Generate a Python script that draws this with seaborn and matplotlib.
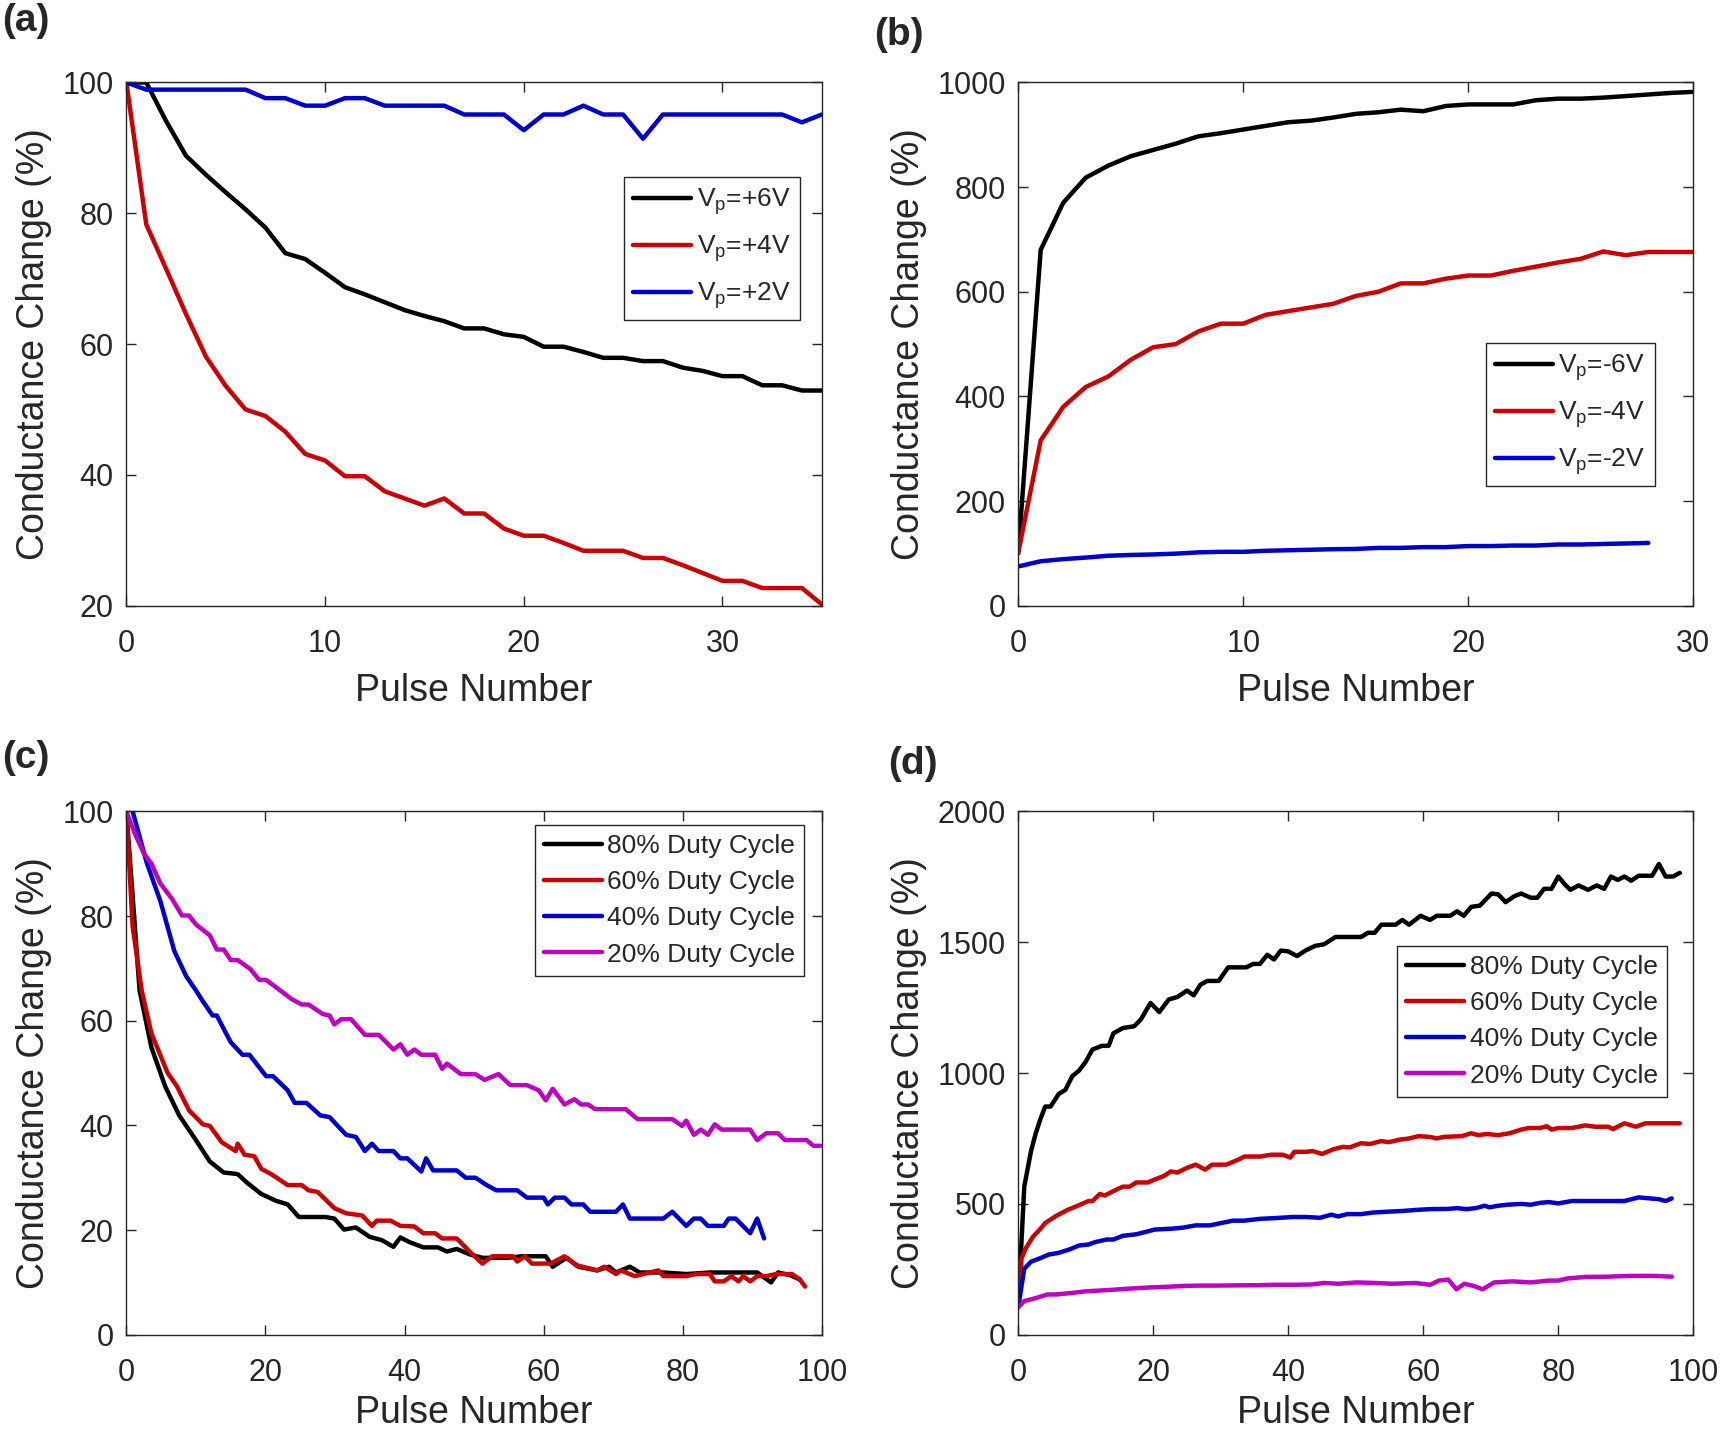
import numpy as np
import pandas as pd
import matplotlib
matplotlib.use('Agg')
import matplotlib.pyplot as plt
import seaborn as sns

# (a) depression, pulse amplitude
pulse_a = list(range(36))
g_p6v = [100, 100, 94.1, 88.8, 85.9, 83.2, 80.6, 77.8, 73.9, 73.0, 70.9, 68.7, 67.6, 66.4, 65.2, 64.3,
         63.5, 62.4, 62.4, 61.5, 61.1, 59.6, 59.6, 58.8, 57.9, 57.9, 57.4, 57.4, 56.4, 55.9, 55.1, 55.1,
         53.7, 53.7, 52.9, 52.9]
g_p4v = [100, 78.3, 71.5, 64.6, 58.1, 53.6, 50.0, 49.0, 46.6, 43.2, 42.2, 39.8, 39.8, 37.5, 36.4, 35.3,
         36.4, 34.1, 34.1, 31.8, 30.7, 30.7, 29.6, 28.4, 28.4, 28.4, 27.3, 27.3, 26.2, 25.0, 23.8, 23.8,
         22.7, 22.7, 22.7, 20.2]
g_p2v = [100, 98.9, 98.9, 98.9, 98.9, 98.9, 98.9, 97.6, 97.6, 96.45, 96.45, 97.6, 97.6, 96.45, 96.45, 96.45,
         96.45, 95.1, 95.1, 95.1, 92.7, 95.1, 95.1, 96.45, 95.1, 95.1, 91.4, 95.1, 95.1, 95.1, 95.1, 95.1,
         95.1, 95.1, 93.9, 95.1]

# (b) potentiation, pulse amplitude
pulse_b = list(range(31))
g_m6v = [100, 680, 770, 818, 841, 859, 871, 883, 897, 903, 910, 917, 924, 927, 933, 940, 943, 948, 945,
         955, 958, 958, 958, 966, 969, 969, 971, 974, 977, 980, 982]
g_m4v = [101, 316, 380, 418, 438, 470, 494, 500, 524, 539, 539, 556, 563, 570, 577, 592, 600, 616, 616,
         625, 631, 631, 640, 648, 656, 663, 677, 670, 676, 676, 676]
pulse_b2 = list(range(29))
g_m2v = [75, 85, 89, 92, 95.5, 97, 98, 99.5, 102, 103, 103, 105, 106, 107, 108, 108.5, 110.5, 110.5, 112,
         112, 114, 114, 115, 115, 117, 117, 118, 119, 120]

# (c) depression, duty cycle
x_c80 = [0, 1.9, 3.6, 5.6, 7.6, 10, 12, 14, 16, 17.4, 19.4, 21.5, 23.2, 24.8, 25.9, 28.6, 29.9, 31.3, 33,
         35, 36.7, 38.4, 39.4, 40.7, 42.7, 44.8, 46.1, 47.5, 49.5, 51.2, 54.9, 56.9, 60.3, 61.3, 63.3, 65,
         67.7, 69.4, 70.4, 72.4, 73.8, 77.2, 80.5, 83.9, 85.9, 87.6, 90.7, 92.7, 93.7, 95.4, 96.8]
y_c80 = [100, 65.8, 54.9, 47.4, 41.9, 37.2, 33.1, 31.0, 30.7, 29.0, 26.9, 25.6, 24.9, 22.5, 22.5, 22.5, 22.2,
         20.1, 20.5, 18.7, 18.1, 16.8, 18.6, 17.7, 16.7, 16.7, 15.9, 16.4, 15.3, 14.7, 14.7, 15.0, 15.0, 13.0,
         14.7, 13.0, 12.3, 13.0, 11.9, 13.0, 11.9, 11.9, 11.6, 11.9, 11.9, 11.9, 11.9, 10.0, 11.9, 11.4, 10.6]
x_c60 = [0, 0.9, 2.2, 3.6, 5.9, 7.3, 9, 11, 12, 13.7, 15.7, 16, 17, 18.4, 19.4, 20.8, 23.2, 25.2, 26.2, 27.5,
         29.9, 31.6, 33.9, 35.3, 36, 38, 39.4, 41.4, 42.7, 44.4, 45.4, 47.5, 49.5, 51.2, 52.6, 55.6, 56.2,
         57.3, 58.3, 61, 63, 64.7, 67.7, 68.7, 70.4, 71.1, 73.1, 76.5, 77.2, 80.5, 81.9, 83.9, 84.6, 85.9,
         87, 88, 88.7, 89.7, 90.7, 92, 93.4, 95.7, 96.8, 97.6]
y_c60 = [100, 78, 65.8, 57.6, 50.1, 47.4, 42.9, 40.2, 39.9, 36.8, 35.1, 36.5, 34.4, 34.1, 31.7, 30.7, 28.6,
         28.6, 27.6, 27.3, 24.2, 23.2, 22.8, 20.8, 21.8, 21.8, 20.8, 20.7, 19.4, 19.4, 18.4, 18.4, 15.7, 13.6,
         15.0, 15.0, 14.0, 15.0, 13.6, 13.6, 15.0, 13.3, 12.3, 13.0, 11.6, 12.3, 11.2, 12.3, 11.2, 11.2, 11.6,
         11.6, 10.2, 10.2, 11.2, 10.2, 11.2, 10.2, 11.2, 11.2, 11.6, 11.6, 10.6, 9.2]
x_c40 = [0, 0.9, 2.9, 4.9, 6.9, 8.6, 10, 11, 12.4, 13, 15, 16.7, 17.7, 20.1, 21.1, 23.2, 24.2, 25.9, 27.9,
         29.2, 31.6, 33, 34.3, 35.3, 36.3, 38.4, 39.4, 40.4, 42.4, 43.1, 44.1, 47.5, 48.8, 50.2, 51.8, 53.2,
         56.2, 57.6, 60, 60.6, 61.6, 63, 64, 65.7, 66.7, 70.4, 71.4, 72.4, 77.2, 78.5, 80.5, 81.6, 82.6,
         83.6, 85.9, 86.6, 87.6, 89.7, 90.7, 91.7]
y_c40 = [104, 100, 90.3, 82.8, 73.3, 68.5, 65.8, 63.7, 61.0, 61.0, 55.9, 53.5, 53.5, 49.4, 49.4, 46.7, 44.3,
         44.3, 41.9, 41.6, 38.2, 37.8, 35.1, 36.5, 35.1, 35.1, 33.7, 33.7, 31.2, 33.7, 31.4, 31.4, 30.0, 30.0,
         28.6, 27.6, 27.6, 26.2, 26.2, 24.9, 26.2, 26.2, 24.9, 24.9, 23.5, 23.5, 24.9, 22.2, 22.2, 23.5, 20.8,
         22.2, 22.2, 20.8, 20.8, 22.2, 22.2, 19.4, 22.2, 18.4]
x_c20 = [0, 1.2, 2.5, 3.6, 4.9, 6.6, 8, 9, 10, 12, 13, 14, 15, 16, 17.8, 19.1, 20.1, 21.8, 23.8, 25.2, 26.2,
         28.2, 29.2, 29.9, 30.9, 32.3, 34.3, 36.3, 38.4, 39.4, 40.4, 41.4, 42.4, 44.4, 45.4, 46.1, 48.1,
         50.2, 51.5, 53.5, 55.2, 57.6, 59.3, 60.3, 61.3, 63, 64.4, 65.4, 66.4, 67.4, 71.8, 73.5, 78.5, 79.9,
         80.5, 81.6, 82.6, 83.6, 84.6, 85.6, 89.7, 90.7, 92, 93.7, 94.7, 97.8, 98.8, 99.8]
y_c20 = [100, 95.8, 92.0, 90.0, 86.2, 83.2, 80.1, 80.1, 78.4, 76.3, 73.6, 73.6, 71.6, 71.6, 69.9, 67.8, 67.8,
         66.1, 64.1, 63.1, 63.1, 61.3, 61.0, 59.3, 60.3, 60.3, 57.3, 57.3, 54.5, 55.5, 53.5, 54.5, 53.5, 53.5,
         50.8, 51.8, 49.8, 49.8, 48.7, 49.8, 47.7, 47.7, 46.7, 44.8, 47.0, 44.0, 45.0, 44.0, 44.0, 43.1, 43.1,
         41.2, 41.2, 39.9, 40.9, 38.2, 39.2, 38.2, 40.2, 39.2, 39.2, 37.2, 38.5, 38.5, 37.2, 37.2, 36.1, 36.1]

# (d) potentiation, duty cycle
x_d80 = [0, 0.9, 1.9, 2.6, 3.3, 4, 4.8, 6, 7, 8, 9, 10, 11, 12.4, 13.4, 14.1, 15.5, 17.2, 18.2, 19.6, 20.9,
         22.3, 23.6, 25, 26, 27, 28, 29.7, 31.1, 33.8, 34.8, 35.8, 36.9, 37.9, 38.9, 40, 41.3, 42.6, 44,
         45.3, 47, 50.8, 51.8, 52.8, 53.8, 55.9, 56.9, 57.9, 59.6, 61, 62, 64, 65, 66, 67.1, 68.4, 70.1,
         71.1, 72.2, 73.5, 74.5, 75.9, 76.9, 77.9, 79, 80, 81, 81.8, 83, 84.4, 85.7, 86.8, 87.8, 88.8,
         89.8, 90.8, 91.9, 93.9, 94.9, 95.9, 97, 98]
y_d80 = [105, 566, 702, 770, 825, 872, 872, 920, 936, 988, 1009, 1043, 1090, 1104, 1104, 1152, 1172, 1179,
         1206, 1268, 1233, 1281, 1291, 1315, 1297, 1338, 1352, 1352, 1404, 1404, 1417, 1417, 1452, 1434, 1468,
         1465, 1447, 1469, 1486, 1492, 1520, 1520, 1536, 1536, 1567, 1567, 1585, 1567, 1601, 1585, 1601, 1601,
         1618, 1601, 1635, 1640, 1686, 1683, 1653, 1676, 1686, 1670, 1670, 1704, 1704, 1751, 1720, 1700,
         1717, 1700, 1717, 1704, 1751, 1738, 1751, 1735, 1754, 1754, 1799, 1751, 1751, 1765]
x_d60 = [0, 0.5, 1.2, 2.2, 3.3, 4, 5.6, 7.3, 9, 10.4, 11, 12.1, 12.8, 14.1, 15.5, 16.5, 17.5, 19.2, 20.2,
         21.6, 22.6, 23.6, 25, 26.3, 27.7, 28.7, 30.8, 32.5, 33.5, 35.8, 37.5, 39.2, 40.3, 40.9, 42.6, 43.6,
         45, 46.7, 48.1, 49.1, 50.8, 52.1, 53.8, 54.9, 56.6, 57.9, 59.3, 61, 62, 63, 65.7, 67.1, 68.1, 69.4,
         71.1, 72.8, 74.5, 75.6, 77.3, 78.3, 79, 80, 82, 84, 85.4, 87.4, 88.1, 89.8, 91.5, 92.9, 95.9, 98]
y_d60 = [105, 293, 334, 375, 405, 427, 454, 477, 495, 511, 511, 538, 532, 549, 566, 566, 582, 582, 593, 607,
         624, 620, 638, 650, 631, 650, 650, 668, 681, 681, 688, 688, 677, 699, 699, 702, 691, 709, 718, 716,
         732, 729, 740, 736, 746, 750, 759, 756, 750, 756, 759, 770, 763, 767, 763, 770, 784, 790, 790, 797,
         784, 790, 790, 800, 795, 795, 786, 808, 795, 808, 808, 808]
x_d40 = [0, 0.9, 1.9, 3.3, 4.6, 6, 7.7, 9, 10.4, 11.4, 13.1, 14.1, 15.5, 17.5, 19.2, 20.2, 22.6, 24.3, 26.3,
         28.4, 29.7, 31.8, 33.5, 35.8, 38.2, 40.6, 42.6, 44.7, 46.4, 47.4, 48.7, 50.8, 52.5, 54.5, 56.9,
         58.9, 61, 63.7, 65, 66.4, 67.8, 69.1, 69.8, 71.1, 72.5, 74.5, 75.9, 77.3, 78.6, 80, 82, 84, 88.1,
         89.8, 91.9, 93.6, 94.9, 95.9, 96.8]
y_d40 = [105, 252, 279, 293, 307, 313, 327, 341, 345, 354, 364, 364, 378, 384, 395, 402, 405, 409, 418, 418,
         425, 436, 436, 443, 446, 450, 450, 447, 459, 452, 461, 461, 467, 470, 473, 477, 480, 481, 484, 480,
         484, 493, 487, 493, 497, 500, 497, 504, 507, 502, 511, 511, 511, 511, 525, 521, 518, 511, 521]
x_d20 = [0, 0.9, 2.6, 4.3, 5.6, 7.7, 10, 12.8, 16.2, 19.6, 22.6, 25, 27, 29.7, 33.1, 34.8, 37.9, 40.6, 43.3,
         45.3, 47.4, 50.1, 52.8, 55.5, 58.9, 61, 62.3, 63.7, 64.9, 66.1, 67.4, 68.8, 70.5, 73.2, 75.9, 78.6,
         80, 81.3, 84, 87.4, 90.8, 94.2, 96.8]
y_d20 = [105, 129, 140, 154, 154, 159, 166, 170, 176, 181, 184, 187, 188, 188, 189, 189, 191, 191, 192, 198,
         195, 200, 198, 195, 198, 191, 207, 211, 174, 195, 187, 174, 200, 204, 200, 207, 207, 215, 221, 222,
         225, 225, 222]

BLACK, RED, BLUE, MAG = '#000000', '#cc0000', '#0000cc', '#c000c0'

sns.set_style('ticks')
plt.rcParams['font.family'] = ['Liberation Sans', 'DejaVu Sans']
plt.rcParams['mathtext.fontset'] = 'custom'
plt.rcParams['mathtext.rm'] = 'Liberation Sans'
plt.rcParams['mathtext.it'] = 'Liberation Sans'

fig = plt.figure(figsize=(17.24, 14.34), dpi=100)
ax_a = fig.add_axes([0.0733, 0.5776, 0.4034, 0.3649])
ax_b = fig.add_axes([0.5906, 0.5776, 0.3916, 0.3649])
ax_c = fig.add_axes([0.0733, 0.0692, 0.4034, 0.3650])
ax_d = fig.add_axes([0.5906, 0.0692, 0.3916, 0.3650])

LW = 3.2


def draw(ax, x, y, color, label):
    sns.lineplot(x=x, y=y, color=color, lw=LW, label=label, ax=ax, estimator=None, sort=False)


draw(ax_a, pulse_a, g_p6v, BLACK, 'V$_\\mathregular{p}$=+6V')
draw(ax_a, pulse_a, g_p4v, RED, 'V$_\\mathregular{p}$=+4V')
draw(ax_a, pulse_a, g_p2v, BLUE, 'V$_\\mathregular{p}$=+2V')

draw(ax_b, pulse_b, g_m6v, BLACK, 'V$_\\mathregular{p}$=-6V')
draw(ax_b, pulse_b, g_m4v, RED, 'V$_\\mathregular{p}$=-4V')
draw(ax_b, pulse_b2, g_m2v, BLUE, 'V$_\\mathregular{p}$=-2V')

draw(ax_c, x_c80, y_c80, BLACK, '80% Duty Cycle')
draw(ax_c, x_c60, y_c60, RED, '60% Duty Cycle')
draw(ax_c, x_c40, y_c40, BLUE, '40% Duty Cycle')
draw(ax_c, x_c20, y_c20, MAG, '20% Duty Cycle')

draw(ax_d, x_d80, y_d80, BLACK, '80% Duty Cycle')
draw(ax_d, x_d60, y_d60, RED, '60% Duty Cycle')
draw(ax_d, x_d40, y_d40, BLUE, '40% Duty Cycle')
draw(ax_d, x_d20, y_d20, MAG, '20% Duty Cycle')

ax_a.set(xlim=(0, 35), ylim=(20, 100), xticks=[0, 10, 20, 30], yticks=[20, 40, 60, 80, 100])
ax_b.set(xlim=(0, 30), ylim=(0, 1000), xticks=[0, 10, 20, 30], yticks=[0, 200, 400, 600, 800, 1000])
ax_c.set(xlim=(0, 100), ylim=(0, 100), xticks=[0, 20, 40, 60, 80, 100], yticks=[0, 20, 40, 60, 80, 100])
ax_d.set(xlim=(0, 100), ylim=(0, 2000), xticks=[0, 20, 40, 60, 80, 100], yticks=[0, 500, 1000, 1500, 2000])

# legend anchor (upper right corner, axes coords) and row spacing
legend_opts = {ax_a: ((0.968, 0.819), 0.62), ax_b: ((0.943, 0.502), 0.62),
               ax_c: ((0.975, 0.974), 0.46), ax_d: ((0.961, 0.743), 0.46)}

# bottom row labels sit a bit tighter so they stay inside the canvas
xlabel_pad = {ax_a: 10, ax_b: 10, ax_c: 5, ax_d: 5}

for ax, tag, tx, ty in [(ax_a, '(a)', 0.001, 0.998), (ax_b, '(b)', 0.507, 0.988),
                        (ax_c, '(c)', 0.001, 0.484), (ax_d, '(d)', 0.515, 0.480)]:
    ax.set_xlabel('Pulse Number', fontsize=27, color='#262626', labelpad=xlabel_pad[ax])
    ax.set_ylabel('Conductance Change (%)', fontsize=27, color='#262626', labelpad=7.5)
    ax.tick_params(direction='in', length=7, width=1, labelsize=22, colors='#262626',
                   top=True, right=True)
    ax.tick_params(axis='x', pad=17)
    ax.tick_params(axis='y', pad=9)
    for s in ax.spines.values():
        s.set_color('#262626')
        s.set_linewidth(1)
    anchor, spacing = legend_opts[ax]
    leg = ax.legend(loc='upper right', bbox_to_anchor=anchor, fontsize=19, fancybox=False,
                    framealpha=1, edgecolor='#262626', handlelength=2.2, borderpad=0.35,
                    labelspacing=spacing, handletextpad=0.2, borderaxespad=0)
    leg.get_frame().set_linewidth(1)
    fig.text(tx, ty, tag, fontsize=28, fontweight='bold', ha='left', va='top')

fig.savefig('out.png', dpi=100)
